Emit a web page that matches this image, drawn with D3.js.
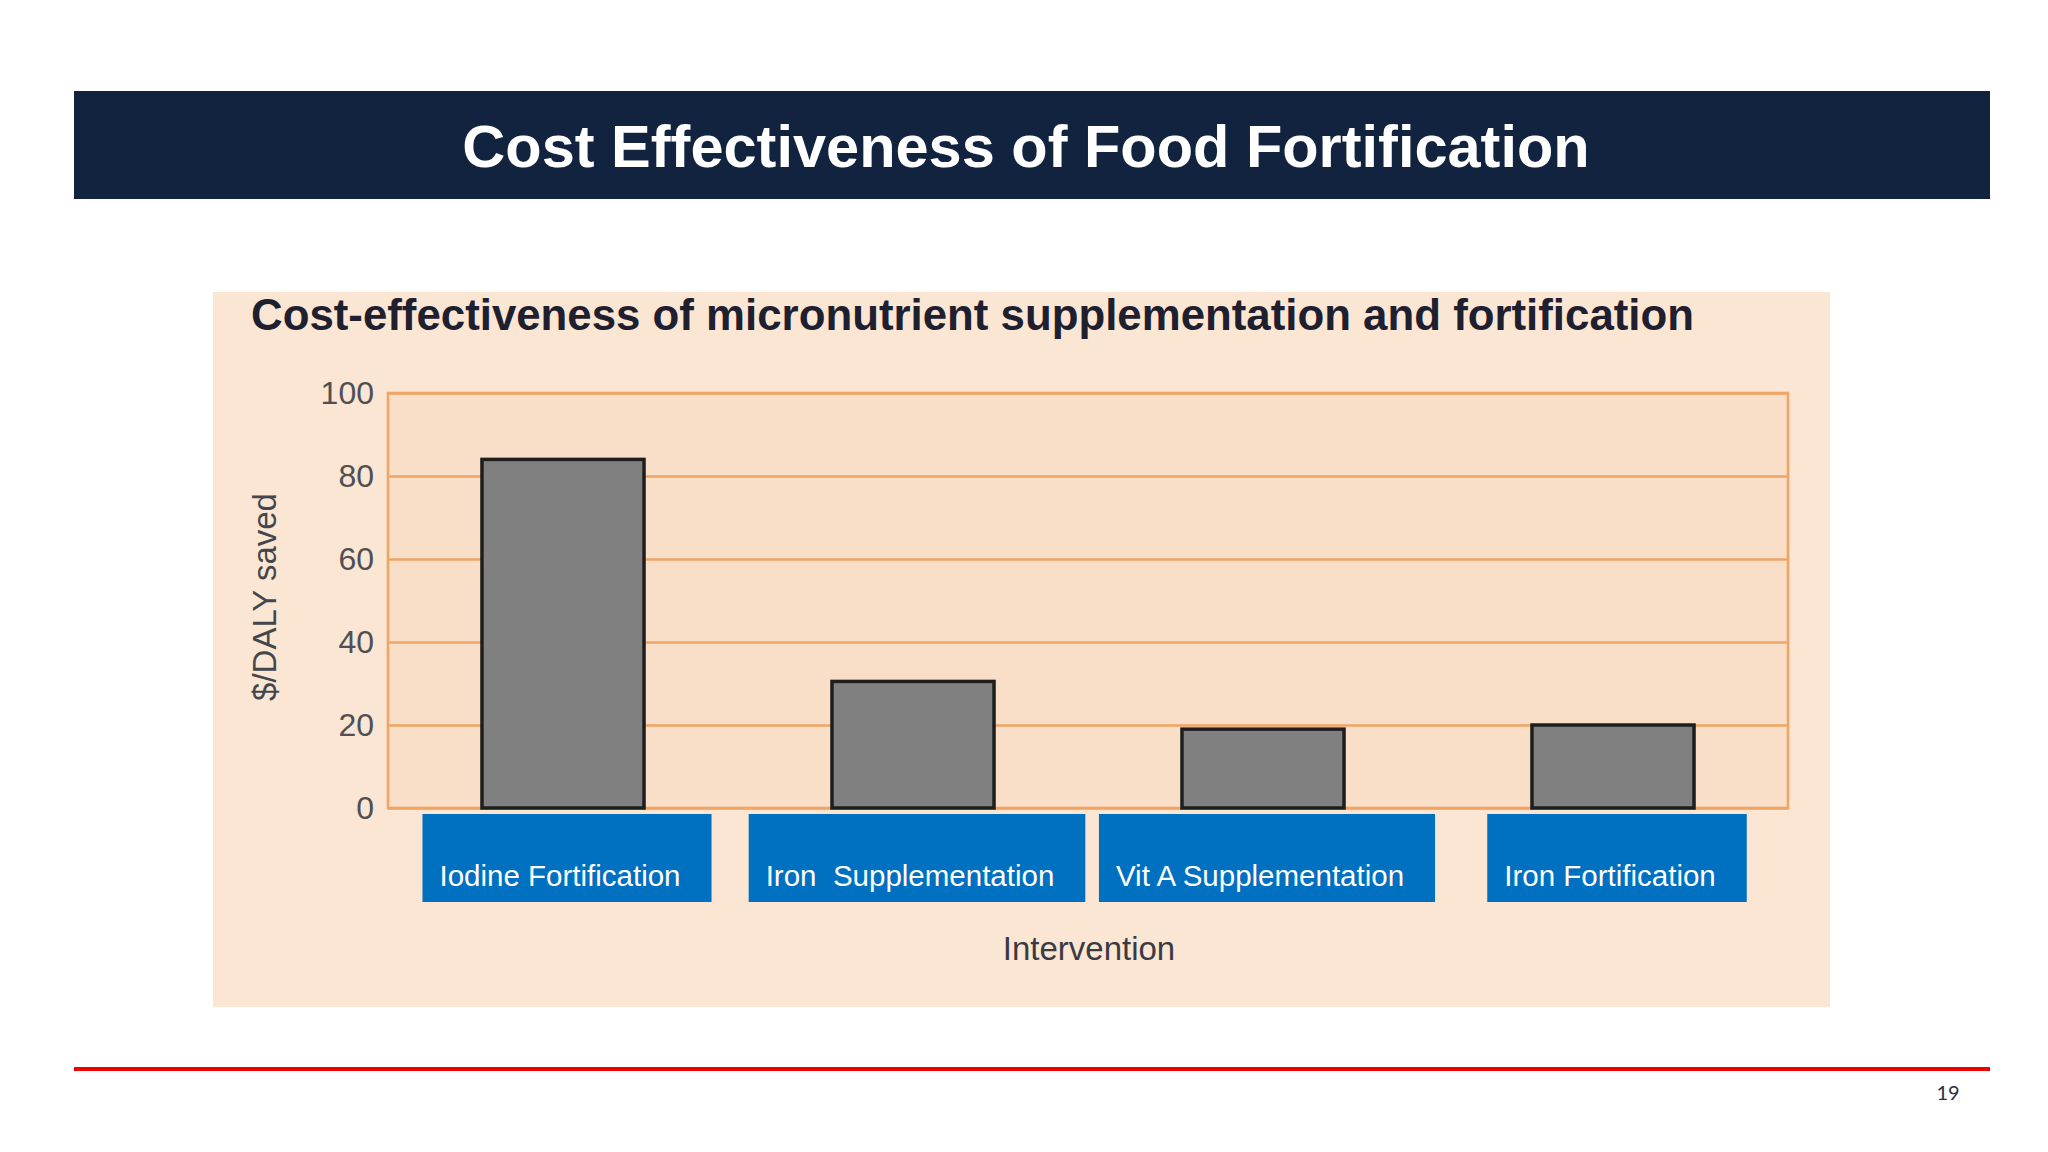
<!DOCTYPE html>
<html>
<head>
<meta charset="utf-8">
<script src="https://cdn.jsdelivr.net/npm/d3@7"></script>
<style>
  html, body { margin: 0; padding: 0; background: #ffffff; }
  svg { display: block; }
</style>
</head>
<body>
<svg id="chart" width="2048" height="1152"></svg>
<script>
// ---- data ----
const slideTitle = "Cost Effectiveness of Food Fortification";
const chartTitle = "Cost-effectiveness of micronutrient supplementation and fortification";
const categories = ["Iodine Fortification", "Iron  Supplementation", "Vit A Supplementation", "Iron Fortification"];
const values = [84, 30.5, 19, 20];
const yTicks = [0, 20, 40, 60, 80, 100];
const yLabel = "$/DALY saved";
const xLabel = "Intervention";
const pageNumber = "19";

// ---- layout ----
const svg = d3.select("#chart");
const FONT = "'Liberation Sans', Arial, Helvetica, sans-serif";

// slide title bar
svg.append("rect").attr("x", 74).attr("y", 91).attr("width", 1916).attr("height", 108).attr("fill", "#12233f");
svg.append("text").attr("x", 1026).attr("y", 167).attr("text-anchor", "middle")
  .attr("font-family", FONT).attr("font-weight", "bold").attr("font-size", 59.5)
  .attr("fill", "#ffffff").text(slideTitle);

// chart panel
svg.append("rect").attr("x", 213).attr("y", 292).attr("width", 1617).attr("height", 715).attr("fill", "#fae6d3");
svg.append("text").attr("x", 251).attr("y", 330)
  .attr("font-family", FONT).attr("font-weight", "bold").attr("font-size", 43.8)
  .attr("fill", "#1e2030").text(chartTitle);

const plot = { left: 388, right: 1788, top: 393, bottom: 808 };
const W = plot.right - plot.left, H = plot.bottom - plot.top;

const x = d3.scaleBand().domain(categories).range([plot.left, plot.right])
  .paddingInner(0.537).paddingOuter(0.2685);
const y = d3.scaleLinear().domain([0, 100]).range([plot.bottom, plot.top]);

// plot background
svg.append("rect").attr("x", plot.left).attr("y", plot.top).attr("width", W).attr("height", H)
  .attr("fill", "#f9dec8");

// gridlines
const grid = svg.append("g").attr("transform", `translate(${plot.left},0)`)
  .call(d3.axisLeft(y).tickValues(yTicks).tickSize(-W).tickFormat(""));
grid.select(".domain").remove();
grid.selectAll(".tick line").attr("stroke", "#f0a564").attr("stroke-width", 2.6);

// plot border
svg.append("rect").attr("x", plot.left).attr("y", plot.top).attr("width", W).attr("height", H)
  .attr("fill", "none").attr("stroke", "#f0a564").attr("stroke-width", 2.6);

// y axis labels
const yAxis = svg.append("g").attr("transform", `translate(${plot.left},0)`)
  .call(d3.axisLeft(y).tickValues(yTicks).tickSize(0).tickPadding(14));
yAxis.select(".domain").remove();
yAxis.selectAll(".tick text").attr("font-family", FONT).attr("font-size", 32)
  .attr("fill", "#4f4f55").attr("dy", "0.34em");

// y axis title
svg.append("text").attr("transform", `translate(276,597) rotate(-90)`).attr("text-anchor", "middle")
  .attr("font-family", FONT).attr("font-size", 33).attr("fill", "#44464d").text(yLabel);

// bars
svg.append("g").selectAll("rect").data(values).join("rect")
  .attr("x", (d, i) => x(categories[i]))
  .attr("y", d => y(d))
  .attr("width", x.bandwidth())
  .attr("height", d => y(0) - y(d))
  .attr("fill", "#808080").attr("stroke", "#1e1e1e").attr("stroke-width", 3.5);

// category label boxes
const catG = svg.append("g").selectAll("g").data(categories).join("g");
catG.each(function (c) {
  const g = d3.select(this);
  const t = g.append("text").attr("font-family", FONT).attr("font-size", 29.5)
    .attr("fill", "#ffffff").attr("xml:space", "preserve").style("white-space", "pre").text(c);
  const tw = t.node().getComputedTextLength();
  const bw = tw + 48;
  const bx = x(c) + x.bandwidth() / 2 - bw / 2 + 4;
  g.insert("rect", "text").attr("x", bx).attr("y", 814).attr("width", bw).attr("height", 88)
    .attr("fill", "#0070c0");
  t.attr("x", bx + 17).attr("y", 886);
});

// x axis title
svg.append("text").attr("x", 1089).attr("y", 960).attr("text-anchor", "middle")
  .attr("font-family", FONT).attr("font-size", 33).attr("fill", "#3a3a45").text(xLabel);

// footer line and page number
svg.append("rect").attr("x", 74).attr("y", 1067).attr("width", 1916).attr("height", 4).attr("fill", "#f00000");
svg.append("text").attr("x", 1948).attr("y", 1100).attr("text-anchor", "middle")
  .attr("font-family", "Lato, 'Open Sans', sans-serif").attr("font-size", 20).attr("fill", "#2b2f3a").text(pageNumber);
</script>
</body>
</html>
